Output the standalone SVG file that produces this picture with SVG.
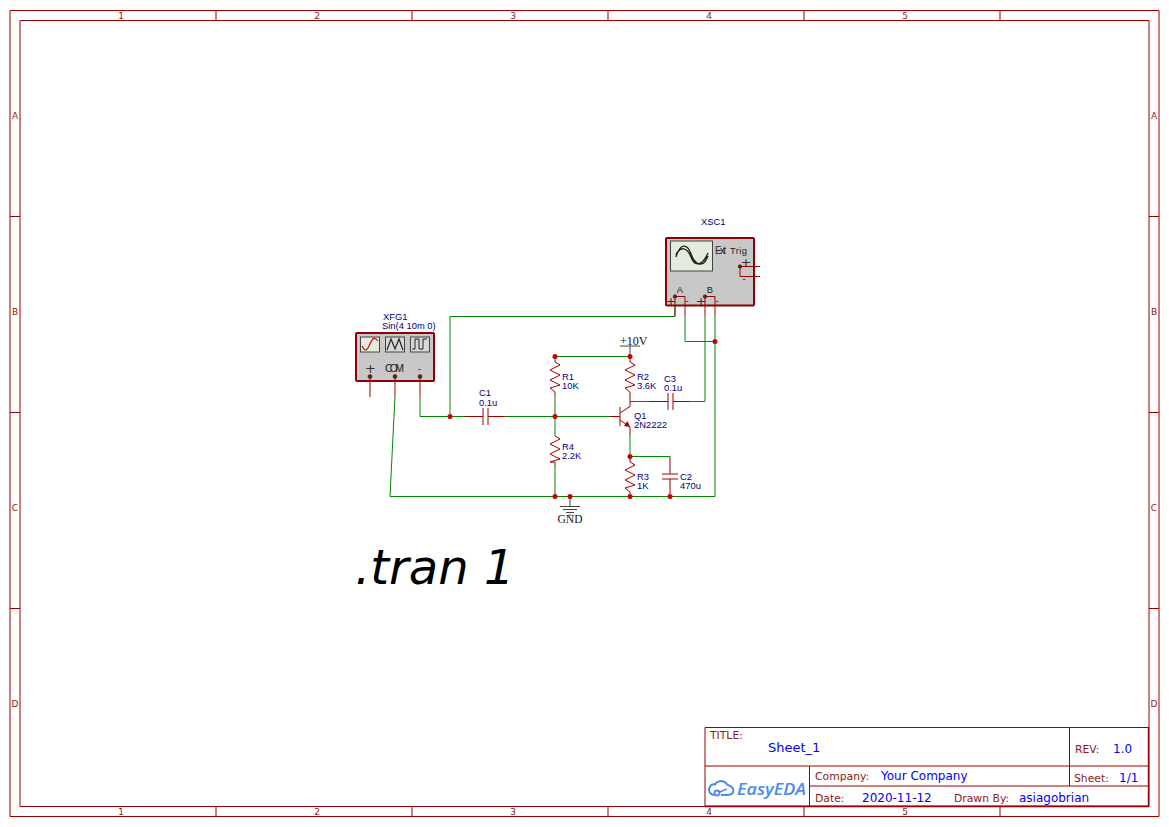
<svg xmlns="http://www.w3.org/2000/svg" width="1169" height="827" viewBox="0 0 1169 827">
<style>
.f{fill:none;stroke:#990000;stroke-width:1}
.w{fill:none;stroke:#008800;stroke-width:1}
.p{fill:none;stroke:#a00000;stroke-width:1}
.k{fill:none;stroke:#444;stroke-width:1}
.d{fill:#cc0000}
.t{font-family:"DejaVu Sans",sans-serif;font-size:9px;fill:#8a1a1a;text-anchor:middle}
.b{font-family:"DejaVu Sans",sans-serif;font-size:10.800px;fill:#8a1a1a}
.v{font-family:"DejaVu Sans",sans-serif;fill:#0000ff;font-size:12px}
.n{font-family:"Liberation Sans",Arial,sans-serif;font-size:9.400px;fill:#000080}
.i{font-family:"Liberation Sans",Arial,sans-serif;font-size:9.400px;fill:#222}
.g{font-family:"DejaVu Sans",sans-serif;font-size:13px;fill:#333;text-anchor:middle}
.s{font-family:"Liberation Serif",serif;fill:#111}
.box{fill:#c8c8c8;stroke:#8b0000;stroke-width:2}
.scr{fill:#e2ebdc;stroke:#444;stroke-width:1}
.pd{fill:#333;stroke:#8b0000;stroke-width:.6}
</style>
<rect width="1169" height="827" fill="#fff"/>
<g id="frame">
<path class="f" d="M10 10.500H1159V816.500H10ZM20 20.500H1149V806.500H20Z"/>
<path class="f" d="M216 10.500V20.500M412 10.500V20.500M608 10.500V20.500M804 10.500V20.500M1000 10.500V20.500M216 806.500V816.500M412 806.500V816.500M608 806.500V816.500M804 806.500V816.500M1000 806.500V816.500M10 216.500H20M10 412.500H20M10 608.500H20M1149 216.500H1159M1149 412.500H1159M1149 608.500H1159"/>
<text class="t" x="121" y="19">1</text><text class="t" x="317" y="19">2</text><text class="t" x="513" y="19">3</text><text class="t" x="709" y="19">4</text><text class="t" x="905" y="19">5</text>
<text class="t" x="121" y="815">1</text><text class="t" x="317" y="815">2</text><text class="t" x="513" y="815">3</text><text class="t" x="709" y="815">4</text><text class="t" x="905" y="815">5</text>
<text class="t" x="15" y="119">A</text><text class="t" x="15" y="315">B</text><text class="t" x="15" y="511">C</text><text class="t" x="15" y="707">D</text>
<text class="t" x="1154" y="119">A</text><text class="t" x="1154" y="315">B</text><text class="t" x="1154" y="511">C</text><text class="t" x="1154" y="707">D</text>
</g>
<g id="title-block">
<path d="M705 727.500H1148.500V806H705ZM705 766H1148.500M810 786H1148.500M809.500 766V806M1069.500 727V786" fill="none" stroke="#990000" stroke-width="1"/>
<path d="M1148.500 727V806.500H705" fill="none" stroke="#990000" stroke-width="1.400"/>
<text class="b" x="710" y="739">TITLE:</text>
<text class="v" x="768" y="752" style="font-size:13px">Sheet_1</text>
<text class="b" x="815" y="780">Company:</text>
<text class="v" x="881" y="780">Your Company</text>
<text class="b" x="815" y="802">Date:</text>
<text class="v" x="862" y="802">2020-11-12</text>
<text class="b" x="954" y="802">Drawn By:</text>
<text class="v" x="1019" y="802">asiagobrian</text>
<text class="b" x="1075" y="753">REV:</text>
<text class="v" x="1113" y="753">1.0</text>
<text class="b" x="1074" y="782">Sheet:</text>
<text class="v" x="1119" y="782">1/1</text>
<path d="M715 795C710 795 708 791 709.500 787.500C710.500 785 713 784 715 784.500C717 780.500 723 780 726 783C727 785 727.500 785 729 785.500C733 786.500 734 790 733 792.500C732 794.500 730 795 727 795H721" fill="none" stroke="#4d88ee" stroke-width="2"/>
<circle cx="717" cy="793" r="2.500" fill="none" stroke="#4d88ee" stroke-width="1.800"/>
<path d="M719.500 792L727 789" fill="none" stroke="#4d88ee" stroke-width="1.800"/>
<text x="737" y="795" font-family="'Open Sans','Liberation Sans',sans-serif" font-size="15.500" font-style="italic" font-weight="600" fill="#4d88ee" textLength="69" lengthAdjust="spacingAndGlyphs">EasyEDA</text>
</g>
<g id="connectors">
<path class="w" d="M420 397V416.500H465M505 416.500H610M450 416.500V316.500H675V296"/>
<path class="w" d="M395 396L390 496.500H715V316M685 316V341.500H715M705 316V401.500H690M630 401.500H650"/>
<path class="w" d="M555 356.500H630M555 396V436M555 466V496.500M630 436V456.500H670"/>
</g>
<g id="XFG1">
<rect class="box" x="356" y="333" width="78" height="48" rx="1"/>
<rect class="scr" x="360.500" y="337" width="19" height="15"/>
<rect x="385.500" y="337" width="19" height="15" fill="#d8d8d8" stroke="#444"/>
<rect x="410.500" y="337" width="19" height="15" fill="#d8d8d8" stroke="#444"/>
<path d="M362 346C365 352 367 351 370 344C373 337 375 337 378 341" fill="none" stroke="#e00000" stroke-width="1.200"/>
<path d="M387 350L391 339L395 349L399 339L403 350" fill="none" stroke="#222" stroke-width="1.200"/>
<path d="M412 349H415V339H419V349H423V339H427" fill="none" stroke="#222"/>
<text class="g" x="370.500" y="373">+</text>
<text class="i" x="385" y="372" textLength="19" lengthAdjust="spacing" style="font-size:10.500px">COM</text>
<text class="i" x="419.500" y="372" text-anchor="middle">-</text>
<path class="p" d="M370 376.500V397M395 376.500V396M420 376.500V397"/>
<circle class="pd" cx="370" cy="376.500" r="2"/><circle class="pd" cx="395" cy="376.500" r="2"/><circle class="pd" cx="420" cy="376.500" r="2"/>
<text class="n" x="383" y="320">XFG1</text>
<text class="n" x="382" y="329">Sin(4 10m 0)</text>
</g>
<g id="XSC1">
<rect class="box" x="666" y="238" width="88" height="67.500" rx="1"/>
<rect class="scr" x="670.500" y="241" width="42" height="30"/>
<path d="M676 257C680 243 687 243 691 254C695 265 703 269 708 256M676 255C680 246 687 247 691 257C695 268 703 265 708 253" fill="none" stroke="#222" stroke-width="1.400"/>
<text class="i" x="715" y="254" textLength="11" lengthAdjust="spacing" style="font-size:10px">Ext</text>
<text class="i" x="730" y="254" textLength="17" lengthAdjust="spacing">Trig</text>
<text class="g" x="746" y="266.500">+</text>
<text class="i" x="744" y="282" text-anchor="middle">-</text>
<text class="i" x="680" y="293" text-anchor="middle">A</text>
<text class="i" x="710" y="293" text-anchor="middle">B</text>
<text class="g" x="671" y="306">+</text>
<text class="i" x="687" y="304" text-anchor="middle">-</text>
<text class="g" x="701" y="306">+</text>
<text class="i" x="717" y="304" text-anchor="middle">-</text>
<path class="p" d="M675 296.500V316M675 296.500H685V316M705 296.500V316M705 296.500H715V316M740 266.500H760M740 266.500V276.500H760"/>
<circle class="pd" cx="675" cy="296.500" r="1.800"/><circle class="pd" cx="705" cy="296.500" r="1.800"/><circle class="pd" cx="740" cy="266.500" r="1.800"/>
<text class="n" x="701" y="225">XSC1</text>
</g>
<g id="C1"><path class="p" d="M465 416.500H483M488 416.500H505M483 408V425M488 408V425"/><text class="n" x="479" y="396">C1</text><text class="n" x="479" y="406">0.1u</text></g>
<g id="C2"><path class="p" d="M670 456.500V474M670 479V496.500M662 474H678M662 479H678"/><text class="n" x="680" y="480">C2</text><text class="n" x="680" y="489">470u</text></g>
<g id="C3"><path class="p" d="M650 401.500H668M673 401.500H690M668 393V410M673 393V410"/><text class="n" x="664" y="382">C3</text><text class="n" x="664" y="391">0.1u</text></g>
<g id="R1"><path class="p" d="M555 356.500V362L560 365L550 370L560 375L550 380L560 385L550 388L555 392V396"/><text class="n" x="562" y="380">R1</text><text class="n" x="562" y="389">10K</text></g>
<g id="R2"><path class="p" d="M630 356.500V362L635 365L625 370L635 375L625 380L635 385L625 388L630 392V401.500"/><text class="n" x="637" y="380">R2</text><text class="n" x="637" y="389">3.6K</text></g>
<g id="R3"><path class="p" d="M630 456.500V462L635 465L625 470L635 475L625 480L635 485L625 488L630 492V496.500"/><text class="n" x="637" y="480">R3</text><text class="n" x="637" y="489">1K</text></g>
<g id="R4"><path class="p" d="M555 436L560 439L550 444L560 449L550 454L560 459L550 462L555 462V466"/><text class="n" x="562" y="450">R4</text><text class="n" x="562" y="459">2.2K</text></g>
<g id="Q1">
<path class="p" d="M610 416.500H620M620 407V426M620 413L630 406.500V401.500M620 420L630 427V436"/>
<path d="M630 427L624 426L627.500 421Z" fill="#a00000"/>
<text class="n" x="634" y="419">Q1</text><text class="n" x="634" y="428">2N2222</text>
</g>
<g id="VCC"><path class="k" d="M630 356.500V346M620 346H640"/><text class="s" x="620" y="345" font-size="12">+10V</text></g>
<g id="GND"><path class="k" d="M570 496.500V506M560 506.500H580M563 509.500H577M566 512.500H574M569 515H571"/><text class="s" x="570" y="523" font-size="11.500" text-anchor="middle">GND</text></g>
<g id="junctions">
<circle class="d" cx="450" cy="416.500" r="2.500"/><circle class="d" cx="555" cy="416.500" r="2.500"/><circle class="d" cx="555" cy="356.500" r="2.500"/><circle class="d" cx="630" cy="356.500" r="2.500"/><circle class="d" cx="715" cy="341.500" r="2.500"/><circle class="d" cx="630" cy="456.500" r="2.500"/><circle class="d" cx="555" cy="496.500" r="2.500"/><circle class="d" cx="570" cy="496.500" r="2.500"/><circle class="d" cx="630" cy="496.500" r="2.500"/><circle class="d" cx="670" cy="496.500" r="2.500"/>
</g>
<text x="355" y="584" font-family="'DejaVu Sans',sans-serif" font-size="48" font-style="italic" fill="#000">.tran 1</text>
</svg>
